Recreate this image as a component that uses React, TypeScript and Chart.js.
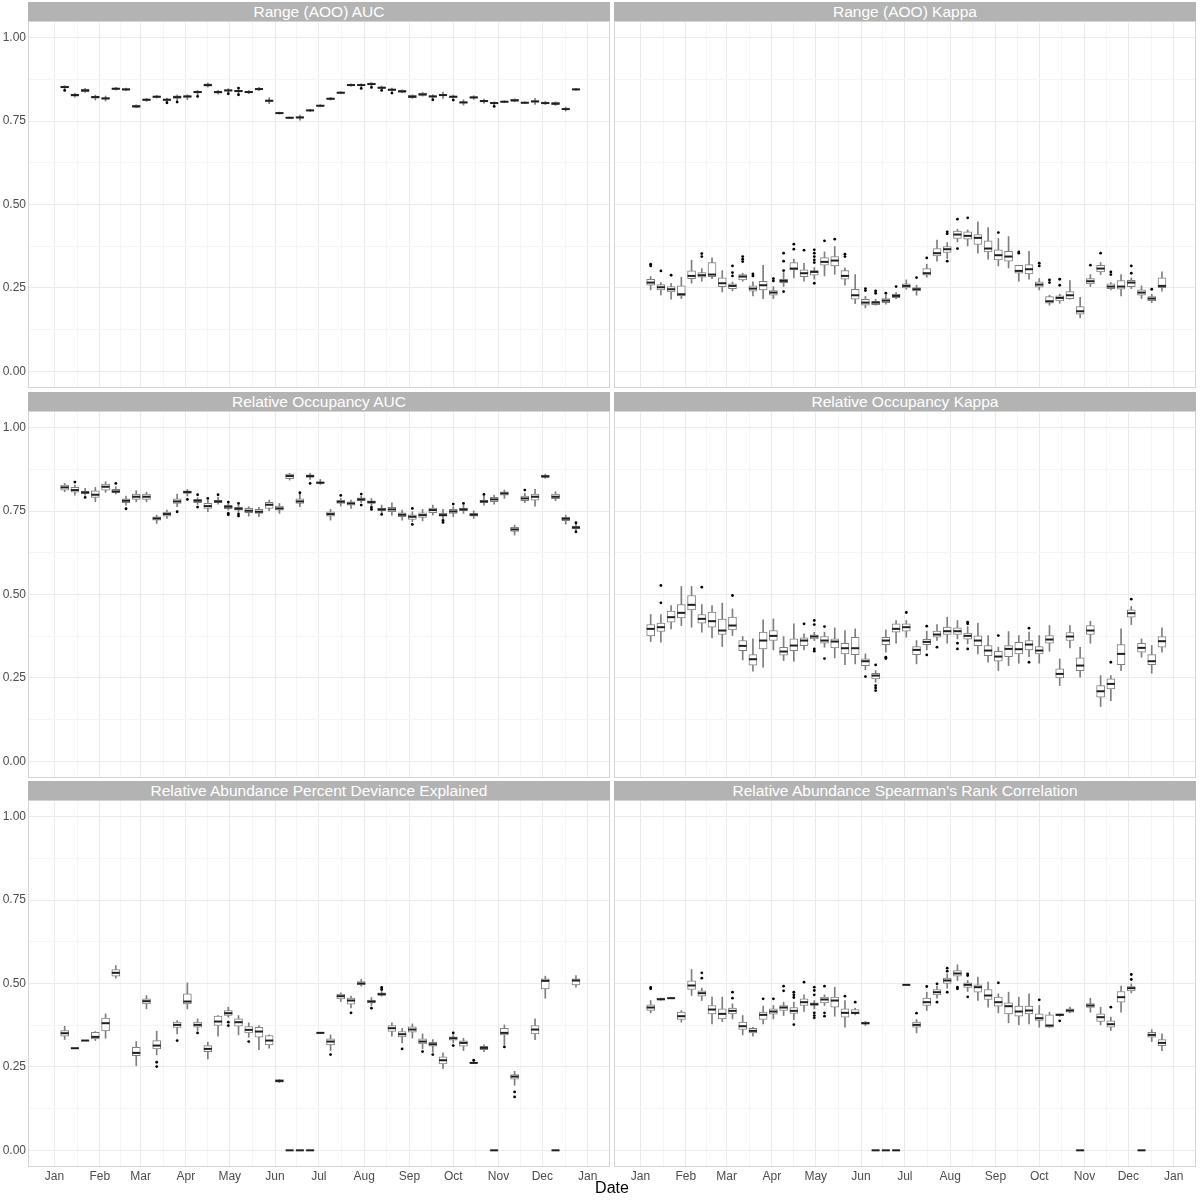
import { useEffect, useRef } from "react";
import { Chart, registerables } from "chart.js";

Chart.register(...registerables);

type Box = [number, number, number, number, number] | null; // [lo, q1, median, q3, hi]
type Outlier = [number, number]; // [week (1-based), value]

// weekly dates, expressed as day of year (Jan 1 = 0)
const firstWeekDay = 7;
const weekStep = 7;

const monthLabels = ["Jan", "Feb", "Mar", "Apr", "May", "Jun", "Jul", "Aug", "Sep", "Oct", "Nov", "Dec", "Jan"];
const monthStartDays = [0, 31, 59, 90, 120, 151, 181, 212, 243, 273, 304, 334, 365];
const yMajor = [0, 0.25, 0.5, 0.75, 1];
const yMinor = [0.125, 0.375, 0.625, 0.875];

const rangeAucBoxes: Box[] = [
  [0.847, 0.85, 0.852, 0.855, 0.856], [0.822, 0.825, 0.828, 0.831, 0.833], [0.836, 0.838, 0.842, 0.846, 0.848],
  [0.813, 0.819, 0.822, 0.825, 0.828], [0.81, 0.816, 0.818, 0.82, 0.825], [0.843, 0.845, 0.847, 0.849, 0.851],
  [0.841, 0.843, 0.845, 0.847, 0.849], [0.79, 0.792, 0.794, 0.797, 0.799], [0.809, 0.812, 0.814, 0.816, 0.818],
  [0.819, 0.821, 0.823, 0.825, 0.827], [0.808, 0.812, 0.814, 0.816, 0.819], [0.811, 0.818, 0.822, 0.826, 0.829],
  [0.814, 0.821, 0.824, 0.826, 0.829], [0.828, 0.835, 0.837, 0.839, 0.842], [0.852, 0.855, 0.858, 0.862, 0.864],
  [0.831, 0.834, 0.837, 0.84, 0.842], [0.836, 0.84, 0.842, 0.844, 0.847], [0.833, 0.838, 0.84, 0.842, 0.846],
  [0.832, 0.835, 0.837, 0.839, 0.842], [0.841, 0.844, 0.846, 0.848, 0.851], [0.802, 0.809, 0.811, 0.813, 0.82],
  [0.771, 0.773, 0.774, 0.775, 0.777], [0.758, 0.759, 0.76, 0.761, 0.762], [0.753, 0.759, 0.761, 0.763, 0.768],
  [0.779, 0.781, 0.782, 0.783, 0.785], [0.793, 0.795, 0.796, 0.797, 0.799], [0.813, 0.815, 0.817, 0.819, 0.821],
  [0.832, 0.834, 0.835, 0.836, 0.838], [0.855, 0.857, 0.858, 0.86, 0.862], [0.853, 0.856, 0.858, 0.86, 0.862],
  [0.855, 0.859, 0.861, 0.863, 0.866], [0.846, 0.848, 0.85, 0.852, 0.855], [0.839, 0.842, 0.844, 0.846, 0.849],
  [0.835, 0.837, 0.839, 0.842, 0.844], [0.818, 0.82, 0.823, 0.827, 0.829], [0.825, 0.827, 0.83, 0.834, 0.836],
  [0.819, 0.822, 0.824, 0.826, 0.829], [0.818, 0.826, 0.828, 0.83, 0.837], [0.818, 0.821, 0.823, 0.825, 0.828],
  [0.798, 0.804, 0.806, 0.808, 0.814], [0.815, 0.819, 0.821, 0.823, 0.826], [0.804, 0.808, 0.81, 0.812, 0.816],
  [0.799, 0.802, 0.804, 0.806, 0.808], [0.805, 0.807, 0.808, 0.809, 0.811], [0.808, 0.81, 0.812, 0.815, 0.817],
  [0.802, 0.804, 0.805, 0.806, 0.808], [0.8, 0.807, 0.809, 0.811, 0.818], [0.8, 0.802, 0.804, 0.807, 0.809],
  [0.797, 0.8, 0.802, 0.806, 0.808], [0.78, 0.785, 0.786, 0.787, 0.792], [0.842, 0.844, 0.845, 0.846, 0.848],
];
const rangeAucOutliers: Outlier[] = [
  [1, 0.842], [11, 0.805], [12, 0.807], [14, 0.824], [17, 0.832], [18, 0.849], [18, 0.829],
  [30, 0.848], [31, 0.851], [32, 0.842], [33, 0.834], [37, 0.814], [39, 0.813], [43, 0.794],
];

const rangeKappaBoxes: Box[] = [
  [0.244, 0.258, 0.266, 0.276, 0.284], [0.229, 0.244, 0.252, 0.26, 0.266], [0.216, 0.238, 0.246, 0.254, 0.264],
  [0.218, 0.226, 0.231, 0.256, 0.282], [0.264, 0.278, 0.286, 0.301, 0.333], [0.27, 0.282, 0.288, 0.296, 0.308],
  [0.278, 0.284, 0.29, 0.326, 0.34], [0.238, 0.254, 0.264, 0.28, 0.302], [0.241, 0.248, 0.256, 0.262, 0.268],
  [0.27, 0.274, 0.284, 0.29, 0.294], [0.226, 0.24, 0.248, 0.256, 0.268], [0.218, 0.244, 0.258, 0.27, 0.318],
  [0.218, 0.228, 0.236, 0.242, 0.254], [0.254, 0.266, 0.271, 0.276, 0.296], [0.28, 0.304, 0.308, 0.326, 0.336],
  [0.27, 0.284, 0.294, 0.304, 0.324], [0.276, 0.288, 0.298, 0.302, 0.311], [0.286, 0.318, 0.328, 0.341, 0.358],
  [0.291, 0.316, 0.332, 0.344, 0.374], [0.258, 0.276, 0.286, 0.302, 0.31], [0.203, 0.216, 0.228, 0.246, 0.29],
  [0.19, 0.198, 0.206, 0.216, 0.225], [0.198, 0.2, 0.206, 0.21, 0.216], [0.201, 0.206, 0.212, 0.218, 0.228],
  [0.218, 0.221, 0.226, 0.231, 0.236], [0.246, 0.25, 0.256, 0.262, 0.274], [0.228, 0.241, 0.246, 0.251, 0.258],
  [0.282, 0.288, 0.294, 0.308, 0.321], [0.33, 0.346, 0.354, 0.368, 0.393], [0.338, 0.356, 0.366, 0.374, 0.386],
  [0.388, 0.398, 0.41, 0.42, 0.426], [0.376, 0.396, 0.406, 0.418, 0.424], [0.354, 0.38, 0.4, 0.41, 0.448],
  [0.336, 0.358, 0.368, 0.391, 0.431], [0.316, 0.334, 0.348, 0.364, 0.398], [0.31, 0.33, 0.344, 0.36, 0.404],
  [0.27, 0.294, 0.301, 0.318, 0.318], [0.276, 0.292, 0.306, 0.32, 0.36], [0.244, 0.252, 0.26, 0.268, 0.278],
  [0.198, 0.204, 0.21, 0.224, 0.228], [0.204, 0.211, 0.22, 0.226, 0.231], [0.216, 0.218, 0.228, 0.239, 0.272],
  [0.16, 0.171, 0.18, 0.194, 0.222], [0.254, 0.262, 0.27, 0.278, 0.29], [0.29, 0.298, 0.308, 0.318, 0.326],
  [0.244, 0.248, 0.254, 0.262, 0.266], [0.226, 0.246, 0.254, 0.272, 0.29], [0.248, 0.254, 0.266, 0.273, 0.28],
  [0.218, 0.228, 0.236, 0.244, 0.256], [0.206, 0.212, 0.218, 0.224, 0.231], [0.24, 0.251, 0.256, 0.28, 0.298],
];
const rangeKappaOutliers: Outlier[] = [
  [1, 0.321], [1, 0.316], [2, 0.301], [3, 0.288], [6, 0.353], [6, 0.344], [9, 0.316], [9, 0.296], [9, 0.286],
  [10, 0.344], [10, 0.336], [10, 0.329], [11, 0.292], [11, 0.286], [13, 0.278], [13, 0.271],
  [14, 0.354], [14, 0.33], [14, 0.302], [14, 0.239], [15, 0.381], [15, 0.366], [16, 0.363],
  [17, 0.364], [17, 0.354], [17, 0.344], [17, 0.334], [17, 0.326], [17, 0.264], [18, 0.391], [19, 0.396],
  [20, 0.351], [20, 0.344], [22, 0.248], [22, 0.242], [23, 0.241], [23, 0.234], [24, 0.234], [25, 0.254],
  [27, 0.281], [28, 0.34], [30, 0.418], [30, 0.412], [30, 0.33], [31, 0.456], [31, 0.368], [32, 0.46],
  [35, 0.416], [37, 0.358], [37, 0.354], [39, 0.324], [39, 0.316], [40, 0.274], [40, 0.266],
  [41, 0.276], [41, 0.258], [44, 0.318], [45, 0.354], [46, 0.298], [46, 0.29], [48, 0.316], [48, 0.294], [50, 0.246],
];

const occAucBoxes: Box[] = [
  [0.808, 0.813, 0.821, 0.828, 0.833], [0.798, 0.807, 0.813, 0.821, 0.828], [0.798, 0.802, 0.806, 0.81, 0.818],
  [0.778, 0.791, 0.799, 0.811, 0.821], [0.806, 0.813, 0.823, 0.831, 0.838], [0.801, 0.805, 0.809, 0.815, 0.823],
  [0.768, 0.775, 0.781, 0.787, 0.795], [0.778, 0.785, 0.793, 0.801, 0.811], [0.778, 0.785, 0.793, 0.801, 0.807],
  [0.713, 0.723, 0.728, 0.733, 0.738], [0.728, 0.735, 0.741, 0.747, 0.753], [0.763, 0.773, 0.779, 0.787, 0.801],
  [0.795, 0.803, 0.807, 0.811, 0.815], [0.77, 0.775, 0.781, 0.785, 0.79], [0.748, 0.758, 0.765, 0.773, 0.783],
  [0.771, 0.775, 0.779, 0.783, 0.791], [0.753, 0.757, 0.763, 0.767, 0.773], [0.745, 0.753, 0.757, 0.761, 0.768],
  [0.735, 0.745, 0.751, 0.758, 0.763], [0.733, 0.743, 0.748, 0.755, 0.761], [0.751, 0.758, 0.769, 0.776, 0.783],
  [0.743, 0.753, 0.758, 0.765, 0.773], [0.843, 0.847, 0.855, 0.861, 0.863], [0.763, 0.773, 0.779, 0.787, 0.8],
  [0.845, 0.851, 0.855, 0.859, 0.863], [0.83, 0.833, 0.835, 0.838, 0.845], [0.723, 0.735, 0.741, 0.748, 0.755],
  [0.765, 0.773, 0.778, 0.783, 0.788], [0.758, 0.768, 0.773, 0.778, 0.783], [0.775, 0.781, 0.785, 0.79, 0.795],
  [0.765, 0.773, 0.777, 0.781, 0.788], [0.745, 0.751, 0.755, 0.759, 0.768], [0.738, 0.748, 0.755, 0.761, 0.775],
  [0.723, 0.733, 0.739, 0.745, 0.753], [0.718, 0.725, 0.733, 0.739, 0.748], [0.721, 0.731, 0.738, 0.745, 0.755],
  [0.738, 0.745, 0.753, 0.759, 0.768], [0.728, 0.735, 0.738, 0.743, 0.755], [0.733, 0.743, 0.749, 0.755, 0.763],
  [0.743, 0.751, 0.755, 0.759, 0.768], [0.728, 0.735, 0.739, 0.743, 0.751], [0.768, 0.775, 0.779, 0.783, 0.795],
  [0.771, 0.778, 0.785, 0.791, 0.798], [0.788, 0.798, 0.803, 0.808, 0.813], [0.678, 0.689, 0.695, 0.701, 0.708],
  [0.775, 0.781, 0.788, 0.795, 0.803], [0.765, 0.783, 0.793, 0.801, 0.815], [0.848, 0.851, 0.854, 0.857, 0.861],
  [0.781, 0.787, 0.793, 0.801, 0.808], [0.711, 0.721, 0.727, 0.731, 0.738], [0.691, 0.697, 0.701, 0.705, 0.711],
];
const occAucOutliers: Outlier[] = [
  [2, 0.837], [3, 0.791], [6, 0.833], [7, 0.757], [12, 0.748], [13, 0.785], [14, 0.799], [14, 0.762],
  [15, 0.788], [16, 0.799], [17, 0.777], [17, 0.743], [17, 0.739], [18, 0.773], [18, 0.741], [18, 0.735],
  [24, 0.805], [25, 0.833], [28, 0.797], [30, 0.801], [30, 0.768], [31, 0.761], [31, 0.755], [32, 0.74],
  [35, 0.758], [35, 0.71], [38, 0.722], [38, 0.716], [39, 0.771], [40, 0.773], [42, 0.8], [46, 0.813],
  [51, 0.715], [51, 0.688],
];

const occKappaBoxes: Box[] = [
  [0.359, 0.376, 0.397, 0.41, 0.44], [0.357, 0.389, 0.402, 0.414, 0.44], [0.397, 0.417, 0.432, 0.45, 0.467],
  [0.407, 0.43, 0.445, 0.47, 0.524], [0.402, 0.454, 0.469, 0.497, 0.524], [0.387, 0.414, 0.427, 0.44, 0.47],
  [0.37, 0.402, 0.42, 0.447, 0.467], [0.344, 0.38, 0.392, 0.426, 0.474], [0.377, 0.394, 0.407, 0.432, 0.457],
  [0.304, 0.332, 0.346, 0.362, 0.374], [0.27, 0.288, 0.306, 0.32, 0.367], [0.282, 0.337, 0.362, 0.387, 0.424],
  [0.334, 0.362, 0.376, 0.392, 0.427], [0.302, 0.318, 0.329, 0.342, 0.374], [0.3, 0.332, 0.347, 0.367, 0.412],
  [0.334, 0.347, 0.362, 0.37, 0.382], [0.362, 0.367, 0.374, 0.379, 0.387], [0.342, 0.354, 0.362, 0.374, 0.387],
  [0.31, 0.34, 0.359, 0.367, 0.4], [0.29, 0.322, 0.339, 0.354, 0.392], [0.292, 0.32, 0.339, 0.372, 0.397],
  [0.274, 0.287, 0.3, 0.307, 0.322], [0.237, 0.247, 0.257, 0.264, 0.272], [0.327, 0.35, 0.362, 0.372, 0.394],
  [0.354, 0.387, 0.397, 0.412, 0.422], [0.372, 0.39, 0.402, 0.412, 0.422], [0.292, 0.32, 0.334, 0.344, 0.362],
  [0.334, 0.35, 0.358, 0.366, 0.39], [0.362, 0.372, 0.38, 0.39, 0.41], [0.354, 0.38, 0.39, 0.402, 0.432],
  [0.367, 0.38, 0.39, 0.4, 0.422], [0.352, 0.366, 0.376, 0.384, 0.404], [0.322, 0.347, 0.362, 0.376, 0.414],
  [0.297, 0.317, 0.332, 0.347, 0.377], [0.272, 0.3, 0.314, 0.33, 0.342], [0.287, 0.314, 0.337, 0.347, 0.389],
  [0.294, 0.322, 0.336, 0.357, 0.377], [0.314, 0.334, 0.35, 0.362, 0.387], [0.294, 0.322, 0.332, 0.344, 0.377],
  [0.33, 0.354, 0.365, 0.377, 0.407], [0.227, 0.25, 0.262, 0.277, 0.307], [0.34, 0.362, 0.374, 0.386, 0.407],
  [0.252, 0.272, 0.287, 0.31, 0.342], [0.354, 0.38, 0.392, 0.407, 0.42], [0.164, 0.192, 0.21, 0.227, 0.257],
  [0.182, 0.217, 0.232, 0.247, 0.257], [0.272, 0.29, 0.322, 0.35, 0.397], [0.41, 0.432, 0.444, 0.454, 0.464],
  [0.312, 0.327, 0.34, 0.354, 0.367], [0.264, 0.29, 0.3, 0.32, 0.347], [0.327, 0.342, 0.36, 0.374, 0.4],
];
const occKappaOutliers: Outlier[] = [
  [2, 0.527], [2, 0.475], [6, 0.522], [9, 0.497], [16, 0.412], [17, 0.422], [17, 0.41], [17, 0.337], [17, 0.33],
  [18, 0.404], [18, 0.308], [22, 0.254], [23, 0.289], [23, 0.227], [23, 0.22], [23, 0.212], [24, 0.312], [24, 0.308],
  [26, 0.446], [28, 0.405], [28, 0.319], [29, 0.342], [31, 0.354], [31, 0.337], [32, 0.417], [32, 0.412], [32, 0.337],
  [35, 0.377], [38, 0.399], [38, 0.297], [46, 0.297], [48, 0.486],
];

const devianceBoxes: Box[] = [
  [0.332, 0.342, 0.351, 0.359, 0.372], [0.306, 0.306, 0.306, 0.306, 0.306], [0.329, 0.329, 0.329, 0.329, 0.329],
  [0.329, 0.334, 0.34, 0.354, 0.356], [0.336, 0.358, 0.381, 0.396, 0.409], [0.516, 0.522, 0.532, 0.542, 0.554],
  null, [0.254, 0.284, 0.292, 0.309, 0.326], [0.424, 0.439, 0.447, 0.454, 0.464],
  [0.286, 0.304, 0.314, 0.329, 0.357], null, [0.349, 0.368, 0.376, 0.384, 0.389],
  [0.424, 0.439, 0.446, 0.469, 0.502], [0.359, 0.369, 0.376, 0.384, 0.394], [0.274, 0.296, 0.304, 0.314, 0.324],
  [0.342, 0.374, 0.386, 0.402, 0.404], [0.399, 0.404, 0.411, 0.419, 0.429], [0.346, 0.372, 0.384, 0.394, 0.404],
  [0.339, 0.352, 0.361, 0.371, 0.382], [0.302, 0.339, 0.356, 0.369, 0.374], [0.306, 0.316, 0.329, 0.344, 0.346],
  [0.203, 0.204, 0.208, 0.212, 0.213], [0, 0, 0, 0, 0], [0, 0, 0, 0, 0],
  [0, 0, 0, 0, 0], [0.352, 0.352, 0.352, 0.352, 0.352], [0.299, 0.316, 0.326, 0.334, 0.346],
  [0.446, 0.454, 0.462, 0.468, 0.472], [0.427, 0.438, 0.449, 0.456, 0.462], [0.492, 0.496, 0.5, 0.506, 0.512],
  [0.434, 0.442, 0.446, 0.45, 0.458], [0.462, 0.464, 0.468, 0.472, 0.476], [0.342, 0.356, 0.366, 0.374, 0.382],
  [0.322, 0.34, 0.348, 0.356, 0.366], [0.336, 0.354, 0.362, 0.37, 0.379], [0.304, 0.319, 0.326, 0.334, 0.349],
  [0.294, 0.312, 0.318, 0.324, 0.332], [0.245, 0.259, 0.27, 0.28, 0.292], [0.322, 0.33, 0.336, 0.34, 0.346],
  [0.299, 0.312, 0.322, 0.328, 0.336], [0.26, 0.261, 0.262, 0.264, 0.266], [0.296, 0.302, 0.307, 0.312, 0.316],
  [0, 0, 0, 0, 0], [0.316, 0.346, 0.352, 0.366, 0.376], [0.195, 0.213, 0.221, 0.227, 0.237],
  null, [0.332, 0.349, 0.362, 0.374, 0.394], [0.456, 0.484, 0.508, 0.514, 0.522],
  [0, 0, 0, 0, 0], null, [0.489, 0.496, 0.509, 0.514, 0.524],
];
const devianceOutliers: Outlier[] = [
  [10, 0.264], [10, 0.251], [12, 0.329], [14, 0.352], [17, 0.384], [17, 0.374], [19, 0.326], [27, 0.287],
  [29, 0.412], [31, 0.426], [32, 0.488], [32, 0.482], [34, 0.304], [36, 0.296], [37, 0.287], [39, 0.352],
  [39, 0.314], [41, 0.27], [44, 0.31], [45, 0.175], [45, 0.16],
];

const spearmanBoxes: Box[] = [
  [0.412, 0.419, 0.428, 0.436, 0.449], [0.45, 0.45, 0.453, 0.456, 0.456], [0.456, 0.456, 0.456, 0.456, 0.456],
  [0.384, 0.392, 0.402, 0.414, 0.419], [0.464, 0.482, 0.494, 0.508, 0.542], [0.449, 0.462, 0.471, 0.478, 0.486],
  [0.379, 0.409, 0.422, 0.434, 0.459], [0.386, 0.394, 0.409, 0.424, 0.459], [0.394, 0.409, 0.418, 0.426, 0.439],
  [0.346, 0.362, 0.372, 0.384, 0.404], [0.342, 0.352, 0.358, 0.366, 0.369], [0.379, 0.392, 0.406, 0.414, 0.432],
  [0.394, 0.408, 0.416, 0.424, 0.434], [0.404, 0.419, 0.428, 0.434, 0.444], [0.392, 0.41, 0.418, 0.428, 0.444],
  [0.416, 0.434, 0.444, 0.454, 0.466], [0.424, 0.434, 0.438, 0.442, 0.449], [0.434, 0.442, 0.452, 0.459, 0.466],
  [0.402, 0.429, 0.449, 0.459, 0.489], [0.369, 0.399, 0.412, 0.424, 0.449], [0.406, 0.409, 0.412, 0.422, 0.426],
  [0.374, 0.378, 0.381, 0.384, 0.386], [0, 0, 0, 0, 0], [0, 0, 0, 0, 0],
  [0, 0, 0, 0, 0], [0.496, 0.496, 0.496, 0.496, 0.496], [0.352, 0.369, 0.376, 0.384, 0.392],
  [0.419, 0.434, 0.444, 0.456, 0.474], [0.456, 0.466, 0.474, 0.482, 0.492], [0.486, 0.5, 0.509, 0.516, 0.529],
  [0.509, 0.522, 0.53, 0.539, 0.556], [0.476, 0.488, 0.496, 0.502, 0.509], [0.449, 0.474, 0.489, 0.496, 0.519],
  [0.429, 0.452, 0.464, 0.482, 0.504], [0.412, 0.432, 0.444, 0.459, 0.469], [0.382, 0.409, 0.432, 0.442, 0.474],
  [0.376, 0.402, 0.416, 0.432, 0.459], [0.379, 0.409, 0.419, 0.432, 0.469], [0.369, 0.389, 0.396, 0.409, 0.434],
  [0.369, 0.369, 0.374, 0.406, 0.414], [0.402, 0.404, 0.406, 0.409, 0.409], [0.412, 0.414, 0.419, 0.424, 0.429],
  [0, 0, 0, 0, 0], [0.414, 0.428, 0.434, 0.44, 0.456], [0.376, 0.386, 0.399, 0.409, 0.429],
  [0.359, 0.369, 0.378, 0.388, 0.399], [0.414, 0.444, 0.459, 0.476, 0.492], [0.472, 0.478, 0.486, 0.491, 0.499],
  [0, 0, 0, 0, 0], [0.326, 0.339, 0.346, 0.354, 0.362], [0.299, 0.314, 0.322, 0.332, 0.349],
];
const spearmanOutliers: Outlier[] = [
  [1, 0.488], [1, 0.484], [6, 0.532], [6, 0.516], [9, 0.474], [9, 0.456], [12, 0.454], [13, 0.454],
  [14, 0.492], [14, 0.478], [15, 0.474], [15, 0.466], [15, 0.458], [15, 0.377], [16, 0.504],
  [17, 0.489], [17, 0.479], [17, 0.466], [17, 0.412], [17, 0.404], [17, 0.397], [18, 0.492], [18, 0.412], [18, 0.402],
  [20, 0.462], [21, 0.444], [27, 0.411], [28, 0.491], [29, 0.499], [29, 0.444], [30, 0.546], [30, 0.537], [30, 0.474],
  [31, 0.489], [31, 0.484], [32, 0.529], [32, 0.524], [32, 0.46], [35, 0.502], [39, 0.451], [41, 0.388],
  [46, 0.429], [48, 0.527], [48, 0.512],
];

interface PanelSpec {
  title: string;
  boxes: Box[];
  outliers: Outlier[];
  col: number;
  row: number;
}

const panels: PanelSpec[] = [
  { title: "Range (AOO) AUC", boxes: rangeAucBoxes, outliers: rangeAucOutliers, col: 0, row: 0 },
  { title: "Range (AOO) Kappa", boxes: rangeKappaBoxes, outliers: rangeKappaOutliers, col: 1, row: 0 },
  { title: "Relative Occupancy AUC", boxes: occAucBoxes, outliers: occAucOutliers, col: 0, row: 1 },
  { title: "Relative Occupancy Kappa", boxes: occKappaBoxes, outliers: occKappaOutliers, col: 1, row: 1 },
  { title: "Relative Abundance Percent Deviance Explained", boxes: devianceBoxes, outliers: devianceOutliers, col: 0, row: 2 },
  { title: "Relative Abundance Spearman's Rank Correlation", boxes: spearmanBoxes, outliers: spearmanOutliers, col: 1, row: 2 },
];

// layout (px)
const colLeft = [28, 614];
const panelWidth = 582;
const yAxisWidth = 28;
const rowTop = [21, 411, 800];
const panelHeight = 367;
const xAxisHeight = 24;
const stripHeight = 19;

const FONT = "'Liberation Sans', Arial, sans-serif";
const weekDay = (i: number) => firstWeekDay + weekStep * i;

const xMinor = monthStartDays.slice(1).map((d, i) => (d + monthStartDays[i]) / 2);

const panelBorder = {
  id: "panelBorder",
  afterDraw(chart: Chart) {
    const { ctx, chartArea } = chart;
    ctx.save();
    ctx.strokeStyle = "#d4d4d4";
    ctx.lineWidth = 1;
    ctx.strokeRect(chartArea.left + 0.5, chartArea.top + 0.5, chartArea.width - 1, chartArea.height - 1);
    ctx.restore();
  },
};

function FacetPanel({ spec }: { spec: PanelSpec }) {
  const canvasRef = useRef<HTMLCanvasElement>(null);
  const showY = spec.col === 0;
  const showX = spec.row === 2;
  const width = panelWidth + (showY ? yAxisWidth : 0);
  const height = panelHeight + (showX ? xAxisHeight : 0);

  useEffect(() => {
    if (!canvasRef.current) return;
    const present = spec.boxes
      .map((b, i) => (b ? { x: weekDay(i), b } : null))
      .filter((p): p is { x: number; b: [number, number, number, number, number] } => p !== null);

    const boxColor = "#7f7f7f";
    const majorX = new Set(monthStartDays);
    const majorY = new Set(yMajor);

    const chart = new Chart(canvasRef.current, {
      type: "bar",
      data: {
        datasets: [
          {
            type: "bar",
            data: present.map((p) => ({ x: p.x, y: [p.b[0], p.b[1]] })),
            backgroundColor: boxColor,
            barThickness: 1,
            grouped: false,
            order: 5,
          },
          {
            type: "bar",
            data: present.map((p) => ({ x: p.x, y: [p.b[3], p.b[4]] })),
            backgroundColor: boxColor,
            barThickness: 1,
            grouped: false,
            order: 4,
          },
          {
            type: "bar",
            data: present.map((p) => ({ x: p.x, y: [p.b[1], p.b[3]] })),
            backgroundColor: "#ffffff",
            borderColor: boxColor,
            borderWidth: 1,
            borderSkipped: false,
            barThickness: 8,
            grouped: false,
            order: 3,
          },
          {
            type: "scatter",
            data: present.map((p) => ({ x: p.x, y: p.b[2] })),
            pointStyle: "line",
            radius: 4,
            borderWidth: 2,
            borderColor: "#1f1f1f",
            order: 2,
          },
          {
            type: "scatter",
            data: spec.outliers.map(([w, v]) => ({ x: weekDay(w - 1), y: v })),
            pointStyle: "circle",
            radius: 1.4,
            backgroundColor: "#000000",
            borderWidth: 0,
            order: 1,
          },
        ] as any,
      },
      options: {
        animation: false,
        responsive: false,
        events: [],
        layout: { padding: 0, autoPadding: false },
        plugins: { legend: { display: false }, tooltip: { enabled: false } },
        scales: {
          x: {
            type: "linear",
            min: -18.1,
            max: 380.3,
            offset: false,
            afterBuildTicks: (s: any) => {
              s.ticks = [...monthStartDays, ...xMinor].sort((a, b) => a - b).map((v) => ({ value: v }));
            },
            afterFit: (s: any) => {
              s.height = showX ? xAxisHeight : 0;
              s.paddingLeft = 0;
              s.paddingRight = 0;
            },
            ticks: {
              display: showX,
              autoSkip: false,
              maxRotation: 0,
              padding: 2,
              color: "#4d4d4d",
              font: { family: FONT, size: 12 },
              callback: (v: any) => {
                const k = monthStartDays.indexOf(Number(v));
                return k >= 0 ? monthLabels[k] : "";
              },
            },
            grid: {
              offset: false,
              drawTicks: false,
              color: (c: any) => (c.tick && majorX.has(c.tick.value) ? "#ebebeb" : "#f5f5f5"),
              lineWidth: 1,
            },
            border: { display: false },
          },
          y: {
            type: "linear",
            min: -0.05,
            max: 1.05,
            afterBuildTicks: (s: any) => {
              s.ticks = [...yMajor, ...yMinor].sort((a, b) => a - b).map((v) => ({ value: v }));
            },
            afterFit: (s: any) => {
              s.width = showY ? yAxisWidth : 0;
              s.paddingTop = 0;
              s.paddingBottom = 0;
            },
            ticks: {
              display: showY,
              padding: 2,
              color: "#4d4d4d",
              font: { family: FONT, size: 12 },
              callback: (v: any) => (majorY.has(Number(v)) ? Number(v).toFixed(2) : ""),
            },
            grid: {
              drawTicks: false,
              color: (c: any) => (c.tick && majorY.has(c.tick.value) ? "#ebebeb" : "#f5f5f5"),
              lineWidth: 1,
            },
            border: { display: false },
          },
        },
      },
      plugins: [panelBorder],
    } as any);

    return () => {
      chart.destroy();
    };
  }, [spec]);

  const left = colLeft[spec.col] - (showY ? yAxisWidth : 0);
  const top = rowTop[spec.row];

  return (
    <>
      <div
        style={{
          position: "absolute",
          left: colLeft[spec.col],
          top: top - stripHeight,
          width: panelWidth,
          height: stripHeight,
          background: "#b3b3b3",
          color: "#ffffff",
          fontFamily: FONT,
          fontSize: 15.5,
          lineHeight: `${stripHeight}px`,
          textAlign: "center",
          whiteSpace: "nowrap",
        }}
      >
        {spec.title}
      </div>
      <canvas
        ref={canvasRef}
        width={width}
        height={height}
        style={{ position: "absolute", left, top, width, height, display: "block" }}
      />
    </>
  );
}

export default function App() {
  return (
    <div
      style={{
        position: "absolute",
        left: 0,
        top: 0,
        width: 1200,
        height: 1200,
        background: "#ffffff",
        overflow: "hidden",
      }}
    >
      {panels.map((p) => (
        <FacetPanel key={p.title} spec={p} />
      ))}
      <div
        style={{
          position: "absolute",
          left: 0,
          width: 1200,
          top: 1179,
          paddingLeft: 24,
          boxSizing: "border-box",
          textAlign: "center",
          fontFamily: FONT,
          fontSize: 16,
          color: "#000000",
        }}
      >
        Date
      </div>
    </div>
  );
}
